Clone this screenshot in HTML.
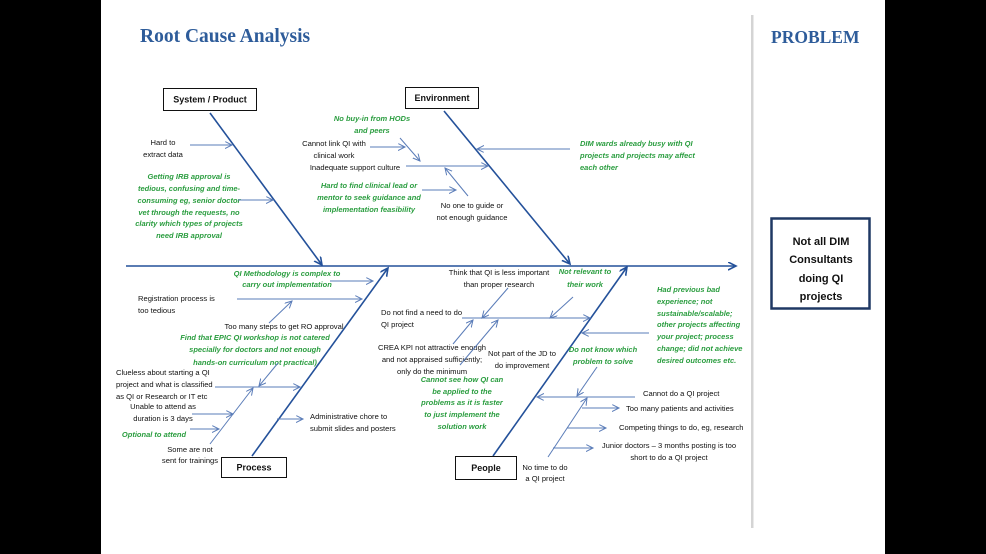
<!DOCTYPE html>
<html><head><meta charset="utf-8"><style>
html,body{margin:0;padding:0;background:#000;}
#c{position:relative;width:986px;height:554px;background:#000;overflow:hidden;}
svg{position:absolute;left:0;top:0;}
.t{font-family:"Liberation Sans",Arial,sans-serif;font-size:7.6px;fill:#111;}
.g{font-family:"Liberation Sans",Arial,sans-serif;font-size:7.5px;fill:#2a9d3f;font-weight:bold;font-style:italic;}
.b{font-family:"Liberation Sans",Arial,sans-serif;font-size:9px;font-weight:bold;fill:#111;}
.bone{stroke:#24519a;stroke-width:1.6;fill:none;}
.sub{stroke:#5a7cb8;stroke-width:1;fill:none;}
</style></head><body><div id="c">
<svg width="986" height="554" viewBox="0 0 986 554" xmlns="http://www.w3.org/2000/svg">
<defs>
<marker id="hb" markerWidth="10" markerHeight="10" refX="8" refY="4" orient="auto" markerUnits="userSpaceOnUse"><path d="M0,0 L8,4 L0,8" fill="none" stroke="#24519a" stroke-width="1.6"/></marker>
<marker id="hs" markerWidth="10" markerHeight="10" refX="7" refY="3.5" orient="auto" markerUnits="userSpaceOnUse"><path d="M0,0 L7,3.5 L0,7" fill="none" stroke="#5a7cb8" stroke-width="1"/></marker>
</defs>
<rect x="101" y="0" width="784" height="554" fill="#fff"/>
<rect x="751" y="15" width="2.5" height="513" fill="#d4d4d4"/>

<text x="140" y="42" style="font-family:'Liberation Serif',serif;font-weight:bold;font-size:19.5px;fill:#2e5c9a;">Root Cause Analysis</text>
<text x="771" y="43" style="font-family:'Liberation Serif',serif;font-weight:bold;font-size:17.5px;fill:#2e5c9a;">PROBLEM</text>

<!-- Problem box -->
<rect x="771.5" y="218.5" width="98" height="90" fill="#fff" stroke="#1f3864" stroke-width="2.5"/>
<g style="font-family:'Liberation Sans',sans-serif;font-weight:bold;font-size:11px;fill:#111;" text-anchor="middle">
<text x="821" y="245">Not all DIM</text>
<text x="821" y="263">Consultants</text>
<text x="821" y="282">doing QI</text>
<text x="821" y="300">projects</text>
</g>

<!-- spine -->
<line x1="126" y1="266" x2="736" y2="266" class="bone" marker-end="url(#hb)"/>
<!-- bones -->
<line x1="210" y1="113" x2="322" y2="265" class="bone" marker-end="url(#hb)"/>
<line x1="444" y1="111" x2="570" y2="264" class="bone" marker-end="url(#hb)"/>
<line x1="252" y1="456" x2="388" y2="268" class="bone" marker-end="url(#hb)"/>
<line x1="493" y1="456" x2="627" y2="267" class="bone" marker-end="url(#hb)"/>

<!-- category boxes -->
<rect x="163.5" y="88.5" width="93" height="22" fill="#fff" stroke="#111" stroke-width="1"/>
<text x="210" y="102.5" class="b" text-anchor="middle">System / Product</text>
<rect x="405.5" y="87.5" width="73" height="21" fill="#fff" stroke="#111" stroke-width="1"/>
<text x="442" y="101" class="b" text-anchor="middle">Environment</text>
<rect x="221.5" y="457.5" width="65" height="20" fill="#fff" stroke="#111" stroke-width="1"/>
<text x="254" y="470.5" class="b" text-anchor="middle">Process</text>
<rect x="455.5" y="456.5" width="61" height="23" fill="#fff" stroke="#111" stroke-width="1"/>
<text x="486" y="471" class="b" text-anchor="middle">People</text>

<!-- System/Product -->
<g text-anchor="middle">
<text x="163" y="145" class="t">Hard to</text>
<text x="163" y="157" class="t">extract data</text>
<text x="189" y="179" class="g">Getting IRB approval is</text>
<text x="189" y="191" class="g">tedious, confusing and time-</text>
<text x="189" y="203" class="g">consuming eg, senior doctor</text>
<text x="189" y="215" class="g">vet through the requests, no</text>
<text x="189" y="226" class="g">clarity which types of projects</text>
<text x="189" y="238" class="g">need IRB approval</text>
</g>
<line x1="190" y1="145" x2="232" y2="145" class="sub" marker-end="url(#hs)"/>
<line x1="238" y1="200" x2="273" y2="200" class="sub" marker-end="url(#hs)"/>

<!-- Environment -->
<g text-anchor="middle">
<text x="372" y="121" class="g">No buy-in from HODs</text>
<text x="372" y="133" class="g">and peers</text>
<text x="334" y="146" class="t">Cannot link QI with</text>
<text x="334" y="158" class="t">clinical work</text>
<text x="355" y="170" class="t">Inadequate support culture</text>
<text x="369" y="188" class="g">Hard to find clinical lead or</text>
<text x="369" y="200" class="g">mentor to seek guidance and</text>
<text x="369" y="212" class="g">implementation feasibility</text>
<text x="472" y="208" class="t">No one to guide or</text>
<text x="472" y="220" class="t">not enough guidance</text>
</g>
<text x="580" y="146" class="g">DIM wards already busy with QI</text>
<text x="580" y="158" class="g">projects and projects may affect</text>
<text x="580" y="170" class="g">each other</text>
<line x1="400" y1="138" x2="420" y2="161" class="sub" marker-end="url(#hs)"/>
<line x1="370" y1="147" x2="405" y2="147" class="sub" marker-end="url(#hs)"/>
<line x1="406" y1="166" x2="488" y2="166" class="sub" marker-end="url(#hs)"/>
<line x1="422" y1="190" x2="456" y2="190" class="sub" marker-end="url(#hs)"/>
<line x1="468" y1="196" x2="445" y2="168" class="sub" marker-end="url(#hs)"/>
<line x1="570" y1="149" x2="477" y2="149" class="sub" marker-end="url(#hs)"/>

<!-- Process -->
<g text-anchor="middle">
<text x="287" y="276" class="g">QI Methodology is complex to</text>
<text x="287" y="287" class="g">carry out implementation</text>
<text x="284" y="329" class="t">Too many steps to get RO approval</text>
<text x="255" y="340" class="g">Find that EPIC QI workshop is not catered</text>
<text x="255" y="352" class="g">specially for doctors and not enough</text>
<text x="255" y="365" class="g">hands-on curriculum not practical)</text>
<text x="163" y="409" class="t">Unable to attend as</text>
<text x="163" y="421" class="t">duration is 3 days</text>
<text x="154" y="437" class="g">Optional to attend</text>
<text x="190" y="452" class="t">Some are not</text>
<text x="190" y="463" class="t">sent for trainings</text>
</g>
<text x="138" y="301" class="t">Registration process is</text>
<text x="138" y="313" class="t">too tedious</text>
<text x="116" y="375" class="t">Clueless about starting a QI</text>
<text x="116" y="387" class="t">project and what is classified</text>
<text x="116" y="399" class="t">as QI or Research or IT etc</text>
<text x="310" y="419" class="t">Administrative chore to</text>
<text x="310" y="431" class="t">submit slides and posters</text>
<line x1="330" y1="281" x2="373" y2="281" class="sub" marker-end="url(#hs)"/>
<line x1="237" y1="299" x2="362" y2="299" class="sub" marker-end="url(#hs)"/>
<line x1="269" y1="323" x2="292" y2="301" class="sub" marker-end="url(#hs)"/>
<line x1="278" y1="363" x2="259" y2="386" class="sub" marker-end="url(#hs)"/>
<line x1="215" y1="387" x2="300" y2="387" class="sub" marker-end="url(#hs)"/>
<line x1="210" y1="444" x2="253" y2="388" class="sub" marker-end="url(#hs)"/>
<line x1="192" y1="414" x2="233" y2="414" class="sub" marker-end="url(#hs)"/>
<line x1="190" y1="429" x2="219" y2="429" class="sub" marker-end="url(#hs)"/>
<line x1="277" y1="419" x2="303" y2="419" class="sub" marker-end="url(#hs)"/>

<!-- People -->
<g text-anchor="middle">
<text x="499" y="275" class="t">Think that QI is less important</text>
<text x="499" y="287" class="t">than proper research</text>
<text x="585" y="274" class="g">Not relevant to</text>
<text x="585" y="287" class="g">their work</text>
<text x="432" y="350" class="t">CREA KPI not attractive enough</text>
<text x="432" y="362" class="t">and not appraised sufficiently;</text>
<text x="432" y="374" class="t">only do the minimum</text>
<text x="522" y="356" class="t">Not part of the JD to</text>
<text x="522" y="368" class="t">do improvement</text>
<text x="462" y="382" class="g">Cannot see how QI can</text>
<text x="462" y="394" class="g">be applied to the</text>
<text x="462" y="405" class="g">problems as it is faster</text>
<text x="462" y="417" class="g">to just implement the</text>
<text x="462" y="429" class="g">solution work</text>
<text x="603" y="352" class="g">Do not know which</text>
<text x="603" y="364" class="g">problem to solve</text>
<text x="669" y="448" class="t">Junior doctors – 3 months posting is too</text>
<text x="669" y="460" class="t">short to do a QI project</text>
<text x="545" y="470" class="t">No time to do</text>
<text x="545" y="481" class="t">a QI project</text>
</g>
<text x="381" y="315" class="t">Do not find a need to do</text>
<text x="381" y="327" class="t">QI project</text>
<text x="657" y="292" class="g">Had previous bad</text>
<text x="657" y="304" class="g">experience; not</text>
<text x="657" y="316" class="g">sustainable/scalable;</text>
<text x="657" y="327" class="g">other projects affecting</text>
<text x="657" y="339" class="g">your project; process</text>
<text x="657" y="351" class="g">change; did not achieve</text>
<text x="657" y="363" class="g">desired outcomes etc.</text>
<text x="643" y="396" class="t">Cannot do a QI project</text>
<text x="626" y="411" class="t">Too many patients and activities</text>
<text x="619" y="430" class="t">Competing things to do, eg, research</text>
<line x1="508" y1="288" x2="482" y2="318" class="sub" marker-end="url(#hs)"/>
<line x1="573" y1="297" x2="550" y2="318" class="sub" marker-end="url(#hs)"/>
<line x1="462" y1="318" x2="590" y2="318" class="sub" marker-end="url(#hs)"/>
<line x1="453" y1="344" x2="473" y2="320" class="sub" marker-end="url(#hs)"/>
<line x1="460" y1="365" x2="498" y2="320" class="sub" marker-end="url(#hs)"/>
<line x1="649" y1="333" x2="582" y2="333" class="sub" marker-end="url(#hs)"/>
<line x1="597" y1="367" x2="577" y2="396" class="sub" marker-end="url(#hs)"/>
<line x1="635" y1="397" x2="537" y2="397" class="sub" marker-end="url(#hs)"/>
<line x1="548" y1="457" x2="587" y2="398" class="sub" marker-end="url(#hs)"/>
<line x1="582" y1="408" x2="619" y2="408" class="sub" marker-end="url(#hs)"/>
<line x1="567" y1="428" x2="606" y2="428" class="sub" marker-end="url(#hs)"/>
<line x1="553" y1="448" x2="593" y2="448" class="sub" marker-end="url(#hs)"/>
</svg>
</div></body></html>
